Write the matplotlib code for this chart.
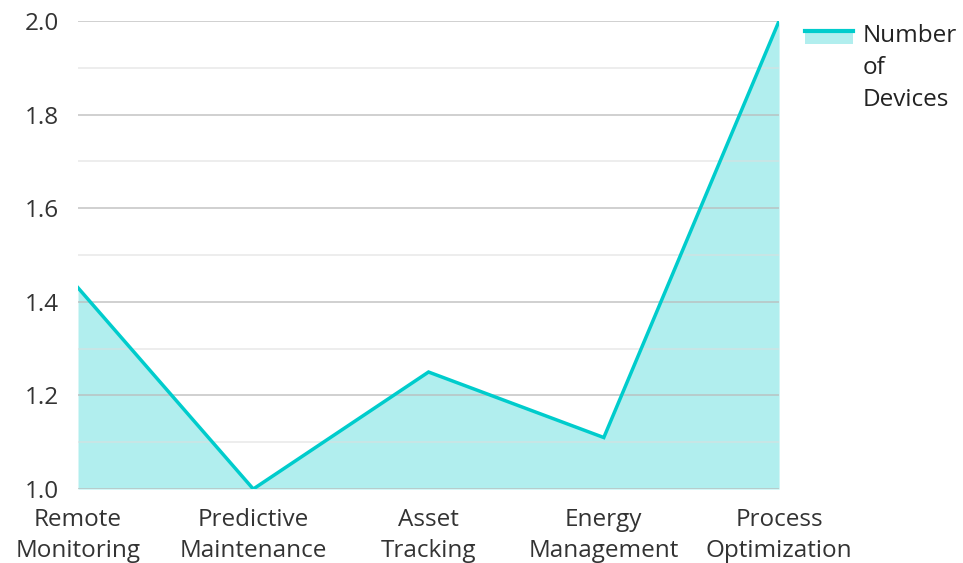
import matplotlib.pyplot as plt
from matplotlib.patches import Rectangle
from matplotlib.lines import Line2D
from matplotlib.legend_handler import HandlerBase
from matplotlib.ticker import MultipleLocator

plt.rcParams['font.family'] = ['Open Sans', 'DejaVu Sans']

categories = ["Remote\nMonitoring", "Predictive\nMaintenance", "Asset\nTracking",
              "Energy\nManagement", "Process\nOptimization"]
devices = [1.43, 1.0, 1.25, 1.11, 2.0]
series_name = "Number\nof\nDevices"

line_color = '#00cccc'
fill_color = '#b1eeee'
fs = 17.5


# legend key: line on top of a filled box, like an area-series marker
class AreaHandler(HandlerBase):
    def create_artists(self, legend, orig_handle, xdescent, ydescent, width, height, fontsize, trans):
        top = height - ydescent + 1.2 * fontsize
        r = Rectangle((-xdescent, top - 0.55 * fontsize), width, 0.55 * fontsize,
                      facecolor=fill_color, edgecolor='none', transform=trans)
        l = Line2D([-xdescent, -xdescent + width], [top, top], color=line_color, lw=3, transform=trans)
        return [r, l]


fig = plt.figure(figsize=(9.63, 5.63), dpi=100)
ax = fig.add_axes([0.081, 0.1314, 0.728, 0.8313])

x = list(range(len(categories)))
ax.fill_between(x, devices, 1.0, color=fill_color, lw=0, zorder=1)
ax.plot(x, devices, color=line_color, lw=2.5, zorder=4, solid_joinstyle='miter')

ax.set_xlim(0, len(categories) - 1)
ax.set_ylim(1.0, 2.0)
ax.yaxis.set_major_locator(MultipleLocator(0.2))
ax.yaxis.set_minor_locator(MultipleLocator(0.1))
ax.grid(axis='y', which='major', color='#bbbbbb', lw=1.2, alpha=0.8, zorder=2)
ax.grid(axis='y', which='minor', color='#dddddd', lw=1.2, alpha=0.6, zorder=2)
ax.set_axisbelow(False)

ax.set_xticks(x)
ax.set_xticklabels(categories, linespacing=1.35)
ax.tick_params(axis='both', which='both', length=0, labelsize=fs, colors='#333333')
ax.tick_params(axis='x', pad=14)
ax.tick_params(axis='y', pad=14)
for s in ax.spines.values():
    s.set_visible(False)

leg = ax.legend([object()], [series_name], handler_map={object: AreaHandler()},
                loc='upper left', bbox_to_anchor=(1.02, 1.02),
                frameon=False, fontsize=fs, handlelength=1.95, handletextpad=0.4,
                labelcolor='#222222', borderpad=0)
for t in leg.get_texts():
    t.set_linespacing(1.45)

fig.savefig('out.png', dpi=100)
